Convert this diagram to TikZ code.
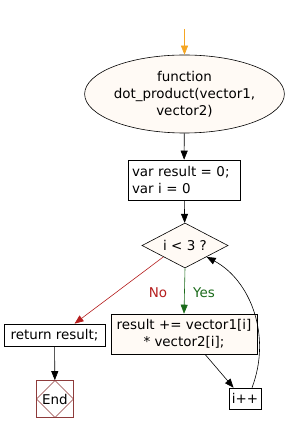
\documentclass[tikz,border=0pt]{standalone}
\usepackage{fontspec}
\setmainfont{DejaVu Sans}
\usetikzlibrary{arrows.meta,shapes.geometric}
\definecolor{krem}{HTML}{FFFAF5}
\definecolor{narandza}{HTML}{F5A623}
\definecolor{zelena}{HTML}{1B6B1B}
\definecolor{crvena}{HTML}{B51E1E}
\definecolor{bordo}{HTML}{8E3B3B}
\tikzset{
  kutija/.style={draw=black,line width=0.6pt,inner sep=3bp,fill=white,
                 font=\fontsize{13.5}{17}\selectfont},
  str/.style={-{Triangle[length=9bp,width=7bp]},line width=0.6pt,black},
}

\begin{document}
\begin{tikzpicture}[x=1bp,y=-1bp]
  \useasboundingbox (0,0) rectangle (284,433);

  % ---------- CVOROVI ----------
  \node[kutija,ellipse,fill=krem,align=center,minimum width=192bp,minimum height=78bp,inner sep=0pt]
       (fun) at (184.5,94) {function\\dot\_product(vector1,\\vector2)};
  \node[kutija,align=left,minimum width=112bp,minimum height=40bp,text width=104bp]
       (init) at (184,180) {var result = 0;\\var i = 0};
  \node[kutija,diamond,fill=krem,aspect=1.9,inner sep=0pt,minimum width=86bp,minimum height=45bp]
       (cond) at (185,245.5) {i < 3 ?};
  \node[kutija,fill=krem,align=center,minimum width=146bp,minimum height=40bp]
       (body) at (184,334) {result += vector1[i]\\* vector2[i];};
  \node[kutija,minimum width=101bp,minimum height=22bp]
       (ret) at (54.5,335) {return result;};
  \node[kutija,minimum width=32bp,minimum height=21bp]
       (incr) at (245,398.5) {i++};
  \node[kutija,draw=bordo,minimum width=37bp,minimum height=37bp,
        path picture={\draw[bordo,line width=0.6pt] (path picture bounding box.north)
          -- (path picture bounding box.east) -- (path picture bounding box.south)
          -- (path picture bounding box.west) -- cycle;}]
       (kraj) at (55,399) {End};
  \coordinate (pocetak) at (184.5,29);

  % ---------- NATPISI ----------
  \node[font=\fontsize{13.5}{17}\selectfont,text=crvena] (ne) at (158,293) {No};
  \node[font=\fontsize{13.5}{17}\selectfont,text=zelena] (da) at (204,293) {Yes};

  % ---------- STRELICE ----------
  \draw[str,narandza] (pocetak) -- (fun);
  \draw[str] (fun) -- (init);
  \draw[str] (init) -- (cond);
  \draw[str,zelena] (cond.south) -- (body.north);
  \draw[str,crvena] (cond.south west) -- ([xshift=20bp]ret.north);
  \draw[str] (ret) -- (kraj);
  \draw[str] ([xshift=21bp]body.south) -- ([xshift=5bp]incr.north west);
  \draw[str] ([xshift=7bp]incr.north) .. controls (272,335) and (250,280) .. (cond.south east);

\end{tikzpicture}
\end{document}
